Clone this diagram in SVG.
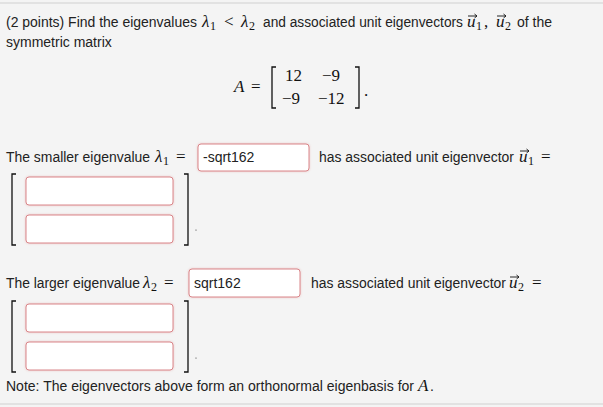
<svg xmlns="http://www.w3.org/2000/svg" width="603" height="407" viewBox="0 0 603 407">
<style>
.t{font-family:"Liberation Sans",Arial,sans-serif;font-size:14px;fill:#222}
.m{font-family:"Liberation Serif","Times New Roman",serif;font-size:17px;fill:#111}
.mi{font-family:"Liberation Serif","Times New Roman",serif;font-size:17px;font-style:italic;fill:#111}
.s{font-family:"Liberation Serif",serif;font-size:12px;fill:#111}
.box{fill:#fff;stroke:#d9868a;stroke-width:1}
.br{fill:none;stroke:#111;stroke-width:1.3}
.va{fill:none;stroke:#111;stroke-width:0.9}
</style>
<defs>
<filter id="g" x="-10%" y="-30%" width="120%" height="160%"><feGaussianBlur stdDeviation="1.5"/></filter>
<path id="arr" class="va" d="M0,0 H9 M6.5,-2 L9,0 L6.5,2"/>
</defs>
<rect width="603" height="407" fill="#f4f4f4"/>
<line x1="0" y1="3" x2="603" y2="3" stroke="#e2e2e2" stroke-width="2"/>
<line x1="0" y1="404" x2="603" y2="404" stroke="#e2e2e2" stroke-width="2"/>
<g id="question">
<text x="6" y="27" class="t" textLength="191" lengthAdjust="spacingAndGlyphs">(2 points) Find the eigenvalues</text>
<text x="202" y="27" class="mi">λ</text><text x="210" y="30" class="s">1</text>
<text x="224" y="27" class="m">&lt;</text>
<text x="241" y="27" class="mi">λ</text><text x="249" y="30" class="s">2</text>
<text x="263" y="27" class="t" textLength="200" lengthAdjust="spacingAndGlyphs">and associated unit eigenvectors</text>
<text x="467" y="27" class="mi">u</text><use href="#arr" x="468" y="16"/><text x="476" y="30" class="s">1</text>
<text x="484" y="27" class="m">,</text>
<text x="496" y="27" class="mi">u</text><use href="#arr" x="497" y="16"/><text x="505" y="30" class="s">2</text>
<text x="517" y="27" class="t">of the</text>
<text x="6" y="47" class="t">symmetric matrix</text>
</g>
<g id="matrix">
<text x="234" y="92" class="mi">A</text><text x="251" y="92" class="m">=</text>
<path class="br" d="M276,67 H272 V108 H276"/>
<path class="br" d="M355,67 H359 V108 H355"/>
<text x="285" y="81" class="m">12</text><text x="322" y="81" class="m">−9</text>
<text x="282" y="104" class="m">−9</text><text x="318" y="104" class="m">−12</text>
<text x="364" y="96" class="m">.</text>
</g>
<g id="row1">
<text x="6" y="162" class="t" textLength="144" lengthAdjust="spacingAndGlyphs">The smaller eigenvalue</text>
<text x="155" y="162" class="mi">λ</text><text x="163" y="165" class="s">1</text>
<text x="176" y="162" class="m">=</text>
<rect x="198" y="144" width="111" height="27" rx="3" fill="#e8b0b0" filter="url(#g)"/>
<rect x="198" y="144" width="111" height="27" rx="3" class="box"/>
<text x="203" y="162" class="t">-sqrt162</text>
<text x="319" y="162" class="t" textLength="195" lengthAdjust="spacingAndGlyphs">has associated unit eigenvector</text>
<text x="519" y="162" class="mi">u</text><use href="#arr" x="520" y="151"/><text x="528" y="165" class="s">1</text>
<text x="541" y="162" class="m">=</text>
</g>
<g id="vec1">
<path class="br" d="M16,174 H12 V245 H16"/>
<path class="br" d="M184,174 H188 V245 H184"/>
<rect x="26" y="177" width="147" height="28" rx="3" fill="#e8b0b0" filter="url(#g)"/>
<rect x="26" y="177" width="147" height="28" rx="3" class="box"/>
<rect x="26" y="215" width="147" height="28" rx="3" fill="#e8b0b0" filter="url(#g)"/>
<rect x="26" y="215" width="147" height="28" rx="3" class="box"/>
<circle cx="196" cy="230" r="0.6" fill="#333"/>
</g>
<g id="row2">
<text x="6" y="288" class="t" textLength="134" lengthAdjust="spacingAndGlyphs">The larger eigenvalue</text>
<text x="143" y="288" class="mi">λ</text><text x="151" y="291" class="s">2</text>
<text x="164" y="288" class="m">=</text>
<rect x="189" y="269" width="111" height="28" rx="3" fill="#e8b0b0" filter="url(#g)"/>
<rect x="189" y="269" width="111" height="28" rx="3" class="box"/>
<text x="194" y="288" class="t">sqrt162</text>
<text x="311" y="288" class="t" textLength="195" lengthAdjust="spacingAndGlyphs">has associated unit eigenvector</text>
<text x="509" y="288" class="mi">u</text><use href="#arr" x="510" y="277"/><text x="518" y="291" class="s">2</text>
<text x="532" y="288" class="m">=</text>
</g>
<g id="vec2">
<path class="br" d="M16,301 H12 V372 H16"/>
<path class="br" d="M184,301 H188 V372 H184"/>
<rect x="26" y="304" width="147" height="28" rx="3" fill="#e8b0b0" filter="url(#g)"/>
<rect x="26" y="304" width="147" height="28" rx="3" class="box"/>
<rect x="26" y="342" width="147" height="28" rx="3" fill="#e8b0b0" filter="url(#g)"/>
<rect x="26" y="342" width="147" height="28" rx="3" class="box"/>
<circle cx="196" cy="358" r="0.6" fill="#333"/>
</g>
<g id="note">
<text x="6" y="391" class="t" textLength="408" lengthAdjust="spacingAndGlyphs">Note: The eigenvectors above form an orthonormal eigenbasis for</text>
<text x="418" y="391" class="mi">A</text><text x="430" y="391" class="t">.</text>
</g>
</svg>
